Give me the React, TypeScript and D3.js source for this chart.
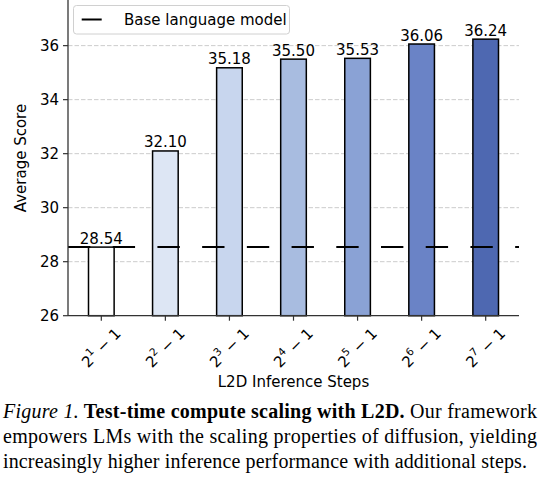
import React from "react";
import * as d3 from "d3";

const exponents = [1, 2, 3, 4, 5, 6, 7];
const scores = [28.54, 32.1, 35.18, 35.5, 35.53, 36.06, 36.24];
const baseScore = 28.54;
const yTicks = [26, 28, 30, 32, 34, 36];
const palette = ["#ffffff", "#dde6f4", "#c8d6ee", "#a8bce0", "#8aa2d5", "#6a83c6", "#4e68b1"];
const legendLabel = "Base language model";
const xLabel = "L2D Inference Steps";
const yLabel = "Average Score";

const W = 540;
const H = 477;
const left = 68;
const right = 519;
const bottom = 315.7;
const top = 0;

export default function App() {
  const x = d3.scaleLinear().domain([-0.52, 6.52]).range([left, right]);
  const y = d3.scaleLinear().domain([26, 37.69]).range([bottom, top]);
  const bw = x(0.4) - x(0);
  const font = "'DejaVu Sans', sans-serif";
  const serif = "'Liberation Serif', 'Times New Roman', serif";
  const dashLen = (x(1) - x(0)) * 0.349;

  return (
    <div style={{ position: "absolute", left: 0, top: 0 }}>
      <svg width={W} height={H} viewBox={`0 0 ${W} ${H}`} style={{ display: "block", background: "#fff" }}>
        {/* grid */}
        {yTicks.filter((t) => t > 26).map((t) => (
          <line key={"g" + t} x1={left} x2={right} y1={y(t)} y2={y(t)} stroke="#cccccc" strokeWidth={1} strokeDasharray="4.5,2" />
        ))}
        {/* bars */}
        {scores.map((v, i) => (
          <rect key={"b" + i} x={x(i) - bw / 2} y={y(v)} width={bw} height={y(26) - y(v)} fill={palette[i]} stroke="#000" strokeWidth={1.5} />
        ))}
        {/* value labels */}
        {scores.map((v, i) => (
          <text key={"v" + i} x={x(i)} y={y(v) - 3.5} textAnchor="middle" fontFamily={font} fontSize={15} fill="#000">
            {v.toFixed(2)}
          </text>
        ))}
        {/* base line */}
        <line x1={left} x2={right} y1={y(baseScore)} y2={y(baseScore)} stroke="#000" strokeWidth={2} strokeDasharray={`${dashLen},${dashLen}`} />
        {/* spines */}
        <line x1={left} x2={left} y1={top} y2={bottom} stroke="#333" strokeWidth={1.3} />
        <line x1={left} x2={right} y1={bottom} y2={bottom} stroke="#333" strokeWidth={1.3} />
        {/* y ticks */}
        {yTicks.map((t) => (
          <g key={"yt" + t}>
            <line x1={left - 5} x2={left} y1={y(t)} y2={y(t)} stroke="#333" strokeWidth={1.2} />
            <text x={left - 9} y={y(t)} textAnchor="end" dominantBaseline="central" fontFamily={font} fontSize={15} fill="#000">
              {t}
            </text>
          </g>
        ))}
        {/* x ticks */}
        {exponents.map((e, i) => (
          <g key={"xt" + i}>
            <line x1={x(i)} x2={x(i)} y1={bottom} y2={bottom + 5} stroke="#333" strokeWidth={1.2} />
            <text
              x={x(i)}
              y={348}
              textAnchor="middle"
              dominantBaseline="central"
              fontFamily={font}
              fontSize={15}
              fill="#000"
              transform={`rotate(-45, ${x(i)}, 348)`}
            >
              2
              <tspan fontSize={10.5} dy={-6}>{e}</tspan>
              <tspan dy={6}>{" \u2212 1"}</tspan>
            </text>
          </g>
        ))}
        {/* axis labels */}
        <text x={(left + right) / 2} y={381.5} textAnchor="middle" dominantBaseline="central" fontFamily={font} fontSize={15} fill="#000">
          {xLabel}
        </text>
        <text x={21} y={158} textAnchor="middle" dominantBaseline="central" fontFamily={font} fontSize={15} fill="#000" transform="rotate(-90, 21, 158)">
          {yLabel}
        </text>
        {/* legend */}
        <rect x={73.5} y={5.5} width={216} height={28.5} rx={3} fill="#fff" fillOpacity={0.8} stroke="#d0d0d0" strokeWidth={1} />
        <line x1={81.7} x2={101.7} y1={19.5} y2={19.5} stroke="#000" strokeWidth={2} />
        <text x={124} y={19.5} dominantBaseline="central" fontFamily={font} fontSize={15} fill="#000">
          {legendLabel}
        </text>
        {/* caption */}
        <text x={3} y={418} fontFamily={serif} fontSize={20} fill="#000" textLength={534} lengthAdjust="spacing">
          <tspan fontStyle="italic">Figure 1.</tspan>
          <tspan fontWeight="bold">{" Test-time compute scaling with L2D."}</tspan>
          <tspan>{" Our framework"}</tspan>
        </text>
        <text x={3} y={443} fontFamily={serif} fontSize={20} fill="#000" textLength={534} lengthAdjust="spacing">
          empowers LMs with the scaling properties of diffusion, yielding
        </text>
        <text x={3} y={468} fontFamily={serif} fontSize={20} fill="#000" textLength={524} lengthAdjust="spacing">
          increasingly higher inference performance with additional steps.
        </text>
      </svg>
    </div>
  );
}
